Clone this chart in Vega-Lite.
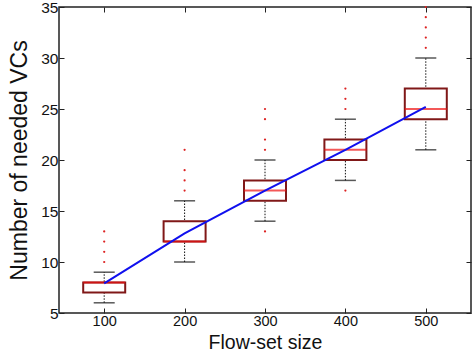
{
  "$schema": "https://vega.github.io/schema/vega-lite/v6.json",
  "width": 412,
  "height": 306,
  "autosize": {"type": "none"},
  "padding": {"left": 59, "top": 7, "right": 3, "bottom": 46},
  "background": "white",
  "config": {
    "view": {"stroke": "#222222", "strokeWidth": 1.5},
    "font": "Liberation Sans",
    "axis": {
      "grid": false,
      "domain": false,
      "tickColor": "#222222",
      "tickSize": -5,
      "tickWidth": 1,
      "labelColor": "#111111",
      "labelFont": "Liberation Sans",
      "titleFont": "Liberation Sans",
      "titleFontWeight": "normal",
      "titleColor": "#111111"
    }
  },
  "datasets": {
    "box": [
      {"size": 100, "lo": 6, "q1": 7, "med": 8, "q3": 8, "hi": 9, "mean": 7.9},
      {"size": 200, "lo": 10, "q1": 12, "med": 12, "q3": 14, "hi": 16, "mean": 12.8},
      {"size": 300, "lo": 14, "q1": 16, "med": 17, "q3": 18, "hi": 20, "mean": 17.0},
      {"size": 400, "lo": 18, "q1": 20, "med": 21, "q3": 22, "hi": 24, "mean": 21.0},
      {"size": 500, "lo": 21, "q1": 24, "med": 25, "q3": 27, "hi": 30, "mean": 25.2}
    ],
    "out": [
      {"size": 100, "value": 10}, {"size": 100, "value": 11}, {"size": 100, "value": 12}, {"size": 100, "value": 13},
      {"size": 200, "value": 17}, {"size": 200, "value": 18}, {"size": 200, "value": 19}, {"size": 200, "value": 21},
      {"size": 300, "value": 13}, {"size": 300, "value": 21}, {"size": 300, "value": 22}, {"size": 300, "value": 24}, {"size": 300, "value": 25},
      {"size": 400, "value": 17}, {"size": 400, "value": 25}, {"size": 400, "value": 26}, {"size": 400, "value": 27},
      {"size": 500, "value": 31}, {"size": 500, "value": 32}, {"size": 500, "value": 33}, {"size": 500, "value": 34}, {"size": 500, "value": 35}
    ]
  },
  "resolve": {"axis": {"x": "independent", "y": "independent"}},
  "layer": [
    {
      "data": {"name": "box"},
      "mark": {"type": "rule", "color": "#111111", "strokeDash": [1.5, 1.5], "strokeWidth": 1},
      "encoding": {
        "x": {"field": "size", "type": "quantitative", "scale": {"domain": [50, 550], "nice": false}, "axis": {"values": [100, 200, 300, 400, 500], "title": "Flow-set size", "labelFontSize": 14.5, "titleFontSize": 19.5, "labelPadding": 6, "titlePadding": 6}},
        "y": {"field": "lo", "type": "quantitative", "scale": {"domain": [5, 35], "nice": false, "zero": false}, "axis": {"values": [5, 10, 15, 20, 25, 30, 35], "title": "Number of needed VCs", "labelFontSize": 15.5, "titleFontSize": 23, "labelPadding": 6, "titlePadding": 9}},
        "y2": {"field": "hi"}
      }
    },
    {
      "data": {"name": "box"},
      "mark": {"type": "tick", "orient": "horizontal", "color": "#111111", "size": 21, "thickness": 1.5},
      "encoding": {
        "x": {"field": "size", "type": "quantitative", "scale": {"domain": [50, 550], "nice": false}, "axis": {"orient": "top", "values": [100, 200, 300, 400, 500], "labels": false, "title": null}},
        "y": {"field": "hi", "type": "quantitative", "scale": {"domain": [5, 35], "nice": false, "zero": false}, "axis": {"orient": "right", "values": [5, 10, 15, 20, 25, 30, 35], "labels": false, "title": null}}
      }
    },
    {
      "data": {"name": "box"},
      "mark": {"type": "tick", "orient": "horizontal", "color": "#111111", "size": 21, "thickness": 1.5},
      "encoding": {
        "x": {"field": "size", "type": "quantitative", "scale": {"domain": [50, 550], "nice": false}, "axis": null},
        "y": {"field": "lo", "type": "quantitative", "scale": {"domain": [5, 35], "nice": false, "zero": false}, "axis": null}
      }
    },
    {
      "data": {"name": "box"},
      "mark": {"type": "bar", "size": 42, "fill": "white", "stroke": "#801818", "strokeWidth": 2},
      "encoding": {
        "x": {"field": "size", "type": "quantitative", "scale": {"domain": [50, 550], "nice": false}, "axis": null},
        "y": {"field": "q1", "type": "quantitative", "scale": {"domain": [5, 35], "nice": false, "zero": false}, "axis": null},
        "y2": {"field": "q3"}
      }
    },
    {
      "data": {"name": "box"},
      "mark": {"type": "tick", "orient": "horizontal", "color": "#ee1111", "size": 42, "thickness": 2},
      "encoding": {
        "x": {"field": "size", "type": "quantitative", "scale": {"domain": [50, 550], "nice": false}, "axis": null},
        "y": {"field": "med", "type": "quantitative", "scale": {"domain": [5, 35], "nice": false, "zero": false}, "axis": null}
      }
    },
    {
      "data": {"name": "box"},
      "mark": {"type": "line", "color": "#1010ee", "strokeWidth": 2},
      "encoding": {
        "x": {"field": "size", "type": "quantitative", "scale": {"domain": [50, 550], "nice": false}, "axis": null},
        "y": {"field": "mean", "type": "quantitative", "scale": {"domain": [5, 35], "nice": false, "zero": false}, "axis": null}
      }
    },
    {
      "data": {"name": "out"},
      "mark": {"type": "point", "filled": true, "color": "#dd2222", "size": 5, "opacity": 1},
      "encoding": {
        "x": {"field": "size", "type": "quantitative", "scale": {"domain": [50, 550], "nice": false}, "axis": null},
        "y": {"field": "value", "type": "quantitative", "scale": {"domain": [5, 35], "nice": false, "zero": false}, "axis": null}
      }
    }
  ]
}
